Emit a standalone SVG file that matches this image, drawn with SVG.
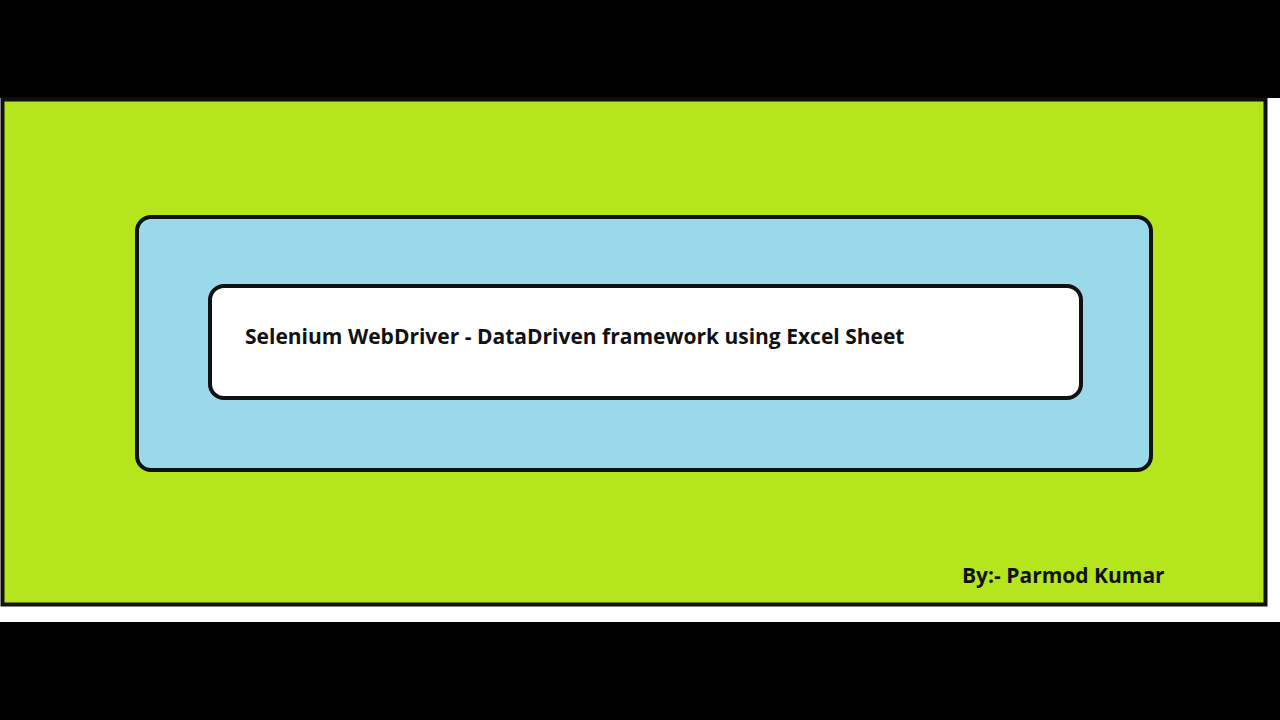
<svg xmlns="http://www.w3.org/2000/svg" width="1280" height="720" viewBox="0 0 1280 720">
<style>
.t{font-family:"Open Sans","Liberation Sans",sans-serif;font-weight:bold;fill:#111}
</style>
<rect x="0" y="0" width="1280" height="720" fill="#ffffff"/>
<rect x="0" y="0" width="1280" height="98" fill="#000"/>
<rect x="0" y="622" width="1280" height="98" fill="#000"/>
<g id="outer"><rect x="2.5" y="99.5" width="1263" height="505" fill="#b5e51d" stroke="#111" stroke-width="4"/></g>
<g id="middle"><rect x="137" y="217" width="1014" height="253" rx="14" fill="#99d9ea" stroke="#111" stroke-width="4"/></g>
<g id="inner"><rect x="210" y="286" width="871" height="112" rx="14" fill="#fff" stroke="#111" stroke-width="4"/>
<text class="t" x="245" y="344" font-size="21">Selenium WebDriver - DataDriven framework using Excel Sheet</text></g>
<g id="author"><text class="t" x="962" y="583" font-size="21">By:- Parmod Kumar</text></g>
<g id="connectors"/>
</svg>
